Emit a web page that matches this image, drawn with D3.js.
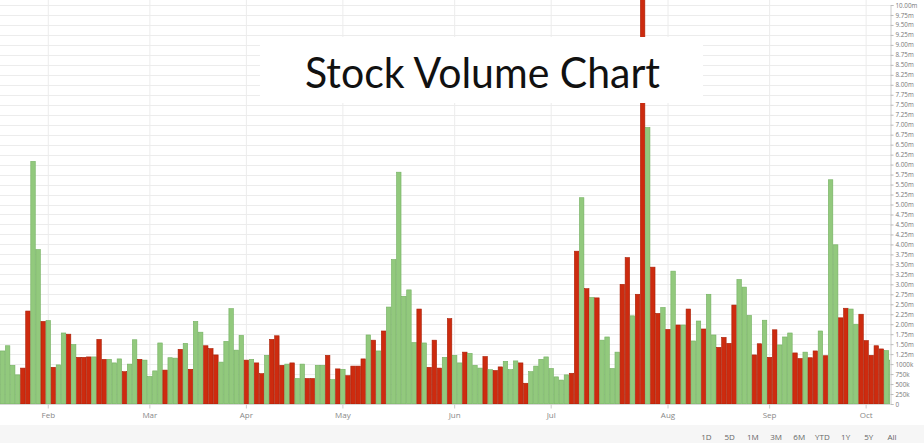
<!DOCTYPE html>
<html>
<head>
<meta charset="utf-8">
<script src="https://cdn.jsdelivr.net/npm/d3@7"></script>
<style>
  html, body { margin: 0; padding: 0; background: #ffffff; }
  svg { display: block; }
</style>
</head>
<body>
<svg id="chart" width="924" height="443"></svg>
<script>
// ---- Data ----
const volumesM = [
  1.33, 1.46, 0.97, 0.73, 0.90, 2.33, 6.08, 3.87, 2.07, 2.09,
  0.92, 0.98, 1.78, 1.75, 1.49, 1.17, 1.17, 1.18, 1.18, 1.62,
  1.12, 1.12, 1.03, 1.13, 0.81, 1.00, 1.61, 1.12, 1.10, 0.69,
  0.83, 1.53, 0.85, 1.16, 1.15, 1.37, 1.52, 0.87, 2.07, 1.80,
  1.46, 1.39, 1.23, 1.05, 1.57, 2.39, 1.35, 1.72, 1.10, 1.12,
  1.03, 0.76, 1.22, 1.62, 1.71, 0.97, 1.00, 1.03, 0.64, 1.00,
  0.64, 0.64, 0.97, 0.97, 1.22, 0.61, 0.88, 0.87, 0.71, 0.95,
  0.95, 1.13, 1.73, 1.60, 1.33, 1.83, 2.43, 3.62, 5.81, 2.70,
  2.86, 1.54, 2.38, 1.53, 0.92, 1.60, 0.90, 1.17, 2.14, 1.22,
  1.03, 1.30, 1.27, 0.97, 0.90, 1.19, 0.86, 0.84, 0.93, 1.07,
  0.86, 1.08, 1.03, 0.52, 0.81, 0.95, 1.12, 1.18, 0.89, 0.68,
  0.60, 0.73, 0.77, 3.83, 5.17, 2.89, 2.67, 2.66, 1.60, 1.68,
  0.89, 1.30, 3.00, 3.67, 2.21, 2.75, 10.30, 6.93, 3.43, 2.27,
  2.42, 1.87, 3.33, 1.98, 1.98, 2.38, 1.58, 2.08, 1.88, 2.75,
  1.73, 1.42, 1.67, 1.52, 2.48, 3.12, 2.93, 2.22, 1.23, 1.51,
  2.10, 1.17, 1.86, 1.48, 1.68, 1.78, 1.28, 1.14, 1.30, 1.16,
  1.33, 1.83, 1.21, 5.62, 3.99, 2.16, 2.40, 2.38, 2.00, 2.25,
  1.59, 1.22, 1.46, 1.38, 1.34, 1.10
];
// "G" = up day (green), "R" = down day (red)
const directions = (
  "GGGGRRGGRG" + "RGGRGRRRGR" + "RGGGRGGRGG" + "GGRGGRGRGG" + "RRRGGGGGRG" +
  "RRGRRRGRGG" + "RRGGRGRGRR" + "RRGRGRGGGG" + "GGRGRRRGRG" + "GRGGGRGRRG" +
  "GGRRGGGGGG" + "GGRRGRGRGG" + "GGRRGRRGRR" + "GRGRGRGGRG" + "GRRRRGGGRR" +
  "GRRGGGRRGR" + "RGRGGRRGGR" + "RRRRGG"
).split("");
const monthLabels = ["Feb", "Mar", "Apr", "May", "Jun", "Jul", "Aug", "Sep", "Oct"];
const monthStartIndex = [9, 29, 48, 67, 89, 108, 131, 151, 170];
const yTickValues = d3.range(0, 10000001, 250000);
const rangeButtons = ["1D", "5D", "1M", "3M", "6M", "YTD", "1Y", "5Y", "All"];
const titleText = "Stock Volume Chart";

// ---- Layout ----
const W = 924, H = 443;
const plot = { left: 0, right: 890, top: 5, bottom: 404 };
const step = 5.08;

const svg = d3.select("#chart");

const x = d3.scaleBand()
  .domain(d3.range(volumesM.length))
  .range([plot.left, plot.left + step * volumesM.length])
  .paddingInner(0).paddingOuter(0);

const y = d3.scaleLinear()
  .domain([0, 10000000])
  .range([plot.bottom, plot.top]);

// clip
svg.append("defs").append("clipPath").attr("id", "plotClip")
  .append("rect")
  .attr("x", plot.left).attr("y", 0)
  .attr("width", plot.right - plot.left).attr("height", plot.bottom);

// horizontal gridlines
svg.append("g")
  .selectAll("line")
  .data(yTickValues)
  .join("line")
  .attr("x1", plot.left).attr("x2", plot.right)
  .attr("y1", d => Math.round(y(d)) + 0.5).attr("y2", d => Math.round(y(d)) + 0.5)
  .attr("stroke", "#ececec").attr("stroke-width", 1);

// vertical gridlines at month starts
svg.append("g")
  .selectAll("line")
  .data(monthStartIndex)
  .join("line")
  .attr("x1", d => x(d) + x.bandwidth() / 2).attr("x2", d => x(d) + x.bandwidth() / 2)
  .attr("y1", 0).attr("y2", plot.bottom)
  .attr("stroke", "#ececec").attr("stroke-width", 1);

// bars
const colors = {
  G: { fill: "#92c97d", stroke: "#73b060" },
  R: { fill: "#cd2b0f", stroke: "#a82008" }
};
svg.append("g")
  .attr("clip-path", "url(#plotClip)")
  .selectAll("rect")
  .data(volumesM.map((v, i) => ({ i, v: v * 1e6, dir: directions[i] })))
  .join("rect")
  .attr("x", d => x(d.i) + 0.3)
  .attr("width", x.bandwidth() - 0.6)
  .attr("y", d => y(d.v))
  .attr("height", d => y(0) - y(d.v))
  .attr("fill", d => colors[d.dir].fill)
  .attr("stroke", d => colors[d.dir].stroke)
  .attr("stroke-width", 0.6);

// title backdrop + title
svg.append("rect")
  .attr("x", 260).attr("y", 37)
  .attr("width", 443).attr("height", 66)
  .attr("fill", "#ffffff");
svg.append("text")
  .attr("x", 482.5).attr("y", 88)
  .attr("text-anchor", "middle")
  .attr("font-family", "Lato, 'Open Sans', sans-serif")
  .attr("font-size", 42)
  .attr("fill", "#111")
  .attr("textLength", 355)
  .attr("lengthAdjust", "spacingAndGlyphs")
  .text(titleText);

// y axis (right)
const fmt = v => v === 0 ? "0" : (v <= 1000000 ? (v / 1000) + "k" : (v / 1e6).toFixed(2) + "m");
const yAxis = svg.append("g")
  .attr("transform", `translate(${plot.right + 0.5},0)`)
  .call(d3.axisRight(y).tickValues(yTickValues).tickFormat(fmt).tickSize(3).tickPadding(2));
yAxis.select(".domain").attr("stroke", "#cccccc");
yAxis.selectAll(".tick line").attr("stroke", "#bbbbbb");
yAxis.selectAll(".tick text")
  .attr("fill", "#777")
  .attr("font-family", "'Open Sans', sans-serif")
  .attr("font-size", 6.3);

// x axis
const xAxis = svg.append("g")
  .attr("transform", `translate(0,${plot.bottom + 0.5})`)
  .call(d3.axisBottom(x)
    .tickValues(monthStartIndex)
    .tickFormat((d, i) => monthLabels[i])
    .tickSize(4).tickPadding(4));
xAxis.select(".domain").attr("stroke", "#d8d8d8").attr("d", `M${plot.left},0H${plot.right}`);
xAxis.selectAll(".tick line").attr("stroke", "#cccccc");
xAxis.selectAll(".tick text")
  .attr("fill", "#888")
  .attr("font-family", "'Open Sans', sans-serif")
  .attr("font-size", 8);

// bottom band with range buttons
svg.append("rect")
  .attr("x", 0).attr("y", 425)
  .attr("width", W).attr("height", H - 425)
  .attr("fill", "#f6f6f6");
const btnX = d3.scalePoint().domain(rangeButtons).range([706.5, 892]);
svg.append("g")
  .selectAll("text")
  .data(rangeButtons)
  .join("text")
  .attr("x", d => btnX(d))
  .attr("y", 440)
  .attr("text-anchor", "middle")
  .attr("font-family", "'Open Sans', sans-serif")
  .attr("font-size", 8)
  .attr("fill", "#666")
  .text(d => d);
</script>
</body>
</html>
